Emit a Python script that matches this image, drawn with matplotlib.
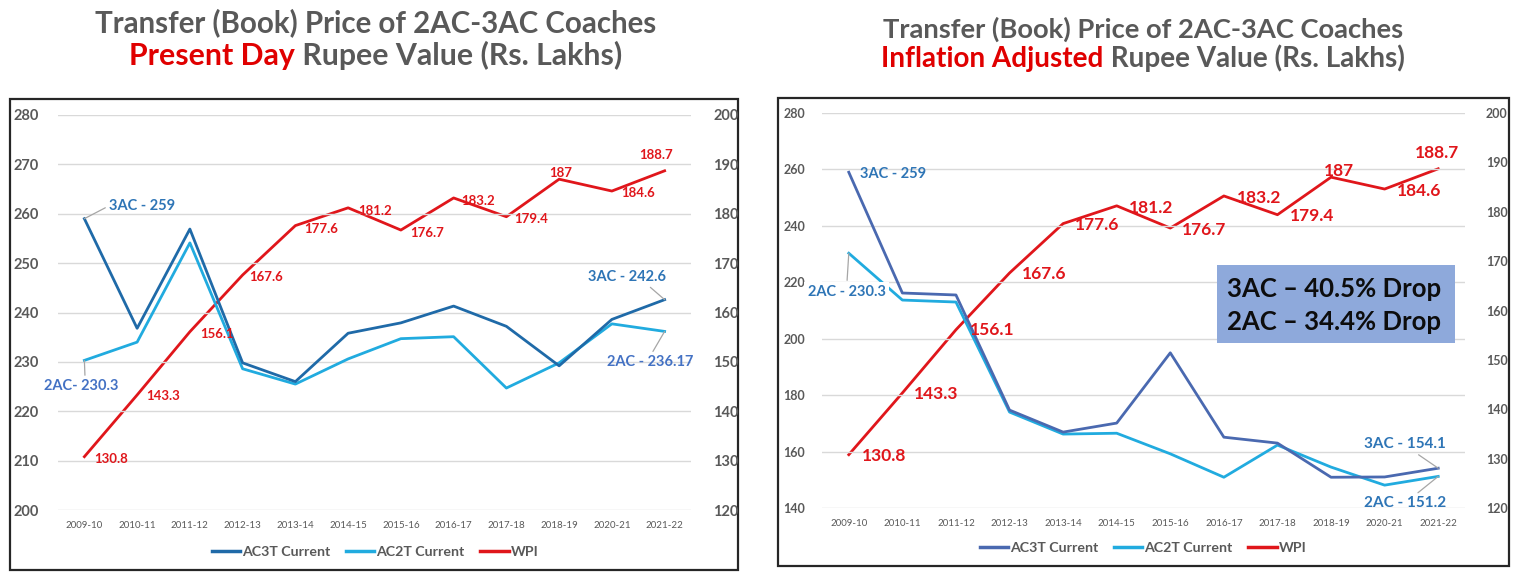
import matplotlib
matplotlib.use("Agg")
import matplotlib.pyplot as plt
from matplotlib.patches import Rectangle
from matplotlib.lines import Line2D

# ---------------- data ----------------
years = ["2009-10", "2010-11", "2011-12", "2012-13", "2013-14", "2014-15",
         "2015-16", "2016-17", "2017-18", "2018-19", "2020-21", "2021-22"]

wpi = [130.8, 143.3, 156.1, 167.6, 177.6, 181.2, 176.7, 183.2, 179.4, 187, 184.6, 188.7]
wpi_labels = ["130.8", "143.3", "156.1", "167.6", "177.6", "181.2", "176.7",
              "183.2", "179.4", "187", "184.6", "188.7"]

ac3t_current = [259, 236.8, 256.9, 229.8, 226.0, 235.8, 237.9, 241.3, 237.2, 229.2, 238.6, 242.6]
ac2t_current = [230.3, 234.0, 254.1, 228.6, 225.5, 230.6, 234.7, 235.1, 224.7, 229.8, 237.7, 236.17]

ac3t_adjusted = [259, 216.2, 215.5, 174.7, 166.9, 170.1, 195.0, 165.1, 163.0, 150.9, 151.0, 154.1]
ac2t_adjusted = [230.3, 213.7, 213.0, 174.0, 166.2, 166.5, 159.2, 150.9, 162.3, 154.5, 148.1, 151.2]

legend_names = ["AC3T Current", "AC2T Current", "WPI"]
left_ticks = [200, 210, 220, 230, 240, 250, 260, 270, 280]
right_ticks_l = [120, 130, 140, 150, 160, 170, 180, 190, 200]
adj_ticks = [140, 160, 180, 200, 220, 240, 260, 280]

# ---------------- styling ----------------
W, H = 1522, 581
FONT = "Lato"
GRAY = "#595959"
RED = "#E0161B"
TRED = "#E00000"
DBLUE = "#1F6AA8"
SLATE = "#4A69B0"
LBLUE = "#21ABDF"
LBLBLUE = "#2E75B6"
LBLPURP = "#4472C4"
GRID = "#D9D9D9"

plt.rcParams["font.family"] = [FONT, "DejaVu Sans"]

fig = plt.figure(figsize=(W / 100, H / 100), dpi=100)
fig.patch.set_facecolor("white")
renderer = fig.canvas.get_renderer()


def fx(x):
    return x / W


def fy(y):
    return 1 - y / H


def add_axes(x0, x1, y0, y1):
    return fig.add_axes([fx(x0), fy(y1), fx(x1) - fx(x0), fy(y0) - fy(y1)])


def fit_text(x_center, y_base, parts, target_width):
    texts = [fig.text(0, fy(y_base), s, color=c, fontsize=20, fontweight="bold",
                      family=FONT, va="baseline", ha="left") for s, c in parts]
    widths = [t.get_window_extent(renderer).width for t in texts]
    scale = target_width / sum(widths)
    for t in texts:
        t.set_fontsize(20 * scale)
    widths = [t.get_window_extent(renderer).width for t in texts]
    x = x_center - sum(widths) / 2
    for t, w in zip(texts, widths):
        t.set_position((fx(x), fy(y_base)))
        x += w


def box(x0, y0, x1, y1):
    fig.patches.append(Rectangle((fx(x0), fy(y1)), fx(x1) - fx(x0), fy(y0) - fy(y1),
                                 transform=fig.transFigure, fill=False,
                                 ec="#262626", lw=1.6, zorder=0))


def style_axes(ax, ax2, lsize, xsize, lpad, rpad):
    for a in (ax, ax2):
        for s in a.spines.values():
            s.set_visible(False)
    ax.grid(axis="y", color=GRID, lw=1.0)
    ax.set_axisbelow(True)
    ax.tick_params(axis="both", length=0)
    ax2.tick_params(axis="both", length=0)
    ax.tick_params(axis="y", labelsize=lsize, labelcolor=GRAY, pad=lpad)
    ax2.tick_params(axis="y", labelsize=lsize, labelcolor=GRAY, pad=rpad)
    for lab in ax.get_yticklabels() + ax2.get_yticklabels():
        lab.set_fontweight("bold")
    ax.tick_params(axis="x", labelsize=xsize, labelcolor=GRAY, pad=8)
    ax.set_facecolor("none")


def leader(ax, text, xy, off, color, size, relpos, bbox=None):
    ax.annotate(text, xy, xytext=off, textcoords="offset pixels", ha="center",
                va="center", color=color, fontsize=size, fontweight="bold",
                bbox=bbox, zorder=8,
                arrowprops=dict(arrowstyle="-", color="#A6A6A6", lw=0.9,
                                shrinkA=1, shrinkB=0, relpos=relpos))


x = list(range(len(years)))

# ================= LEFT CHART =================
box(10, 99, 738, 570)
fit_text(376, 32, [("Transfer (Book) Price of 2AC-3AC Coaches", GRAY)], 563)
fit_text(376, 65, [("Present Day", TRED), (" Rupee Value (Rs. Lakhs)", GRAY)], 493)

axL = add_axes(58, 691, 115, 510)
axL2 = axL.twinx()
axL.set_zorder(2)
axL2.set_zorder(1)
axL.patch.set_visible(False)
axL.plot(x, ac3t_current, color=DBLUE, lw=2.0, zorder=4)
axL.plot(x, ac2t_current, color=LBLUE, lw=2.0, zorder=3)
axL2.plot(x, wpi, color=RED, lw=2.0, zorder=3)
axL.set_ylim(200, 280)
axL2.set_ylim(120, 200)
axL.set_yticks(left_ticks)
axL2.set_yticks(right_ticks_l)
axL.set_xlim(-0.5, 11.5)
axL.set_xticks(x)
axL.set_xticklabels(years)
style_axes(axL, axL2, 10.5, 7, 14, 16)

offsL = [(10, -2, "left"), (9, -1, "left"), (10, -2, "left"), (7, -2, "left"),
         (9, -3, "left"), (10, -3, "left"), (9, -3, "left"), (8, -3, "left"),
         (8, -2, "left"), (2, 6, "center"), (9, -2, "left"), (-9, 16, "center")]
for i, (v, t, off) in enumerate(zip(wpi, wpi_labels, offsL)):
    dx, dy, ha = off
    axL.annotate(t, (i, 200 + (v - 120)), xytext=(dx, dy), textcoords="offset pixels",
                 ha=ha, va="center", color=RED, fontsize=9.5, fontweight="bold", zorder=9)

leader(axL, "3AC - 259", (0, ac3t_current[0]), (58, 13), LBLBLUE, 10.5, (0, 0.5))
leader(axL, "2AC- 230.3", (0, ac2t_current[0]), (-3, -26), LBLPURP, 10.5, (0.55, 1))
leader(axL, "3AC - 242.6", (11, ac3t_current[-1]), (-38, 23), LBLBLUE, 10.5, (0.75, 0))
leader(axL, "2AC - 236.17", (11, ac2t_current[-1]), (-14, -31), LBLPURP, 10.5, (0.5, 1))

handles = [Line2D([], [], color=c, lw=2.5) for c in (DBLUE, LBLUE, RED)]
fig.legend(handles, legend_names, loc="center", bbox_to_anchor=(fx(375), fy(552)),
           ncol=3, frameon=False, handlelength=2.0, handletextpad=0.15,
           columnspacing=1.1, prop=dict(family=FONT, weight="bold", size=10.2),
           labelcolor=GRAY)

# ================= RIGHT CHART =================
box(778, 98, 1509, 566)
fit_text(1143, 38, [("Transfer (Book) Price of 2AC-3AC Coaches", GRAY)], 523)
fit_text(1143, 67, [("Inflation Adjusted", TRED), (" Rupee Value (Rs. Lakhs)", GRAY)], 525)

axR = add_axes(822, 1465, 113, 508)
axR2 = axR.twinx()
axR.set_zorder(2)
axR2.set_zorder(1)
axR.patch.set_visible(False)
axR.plot(x, ac3t_adjusted, color=SLATE, lw=2.0, zorder=4)
axR.plot(x, ac2t_adjusted, color=LBLUE, lw=2.0, zorder=3)
axR2.plot(x, wpi, color=RED, lw=2.0, zorder=3)
axR.set_ylim(140, 280)
axR2.set_ylim(120, 200)
axR.set_yticks(adj_ticks)
axR2.set_yticks(right_ticks_l)
axR.set_xlim(-0.5, 11.5)
axR.set_xticks(x)
axR.set_xticklabels(years)
style_axes(axR, axR2, 9, 7, 12, 15)

offsR = [(13, -1, "left"), (12, -1, "left"), (14, 0, "left"), (12, -1, "left"),
         (12, -1, "left"), (12, -2, "left"), (12, -2, "left"), (13, -2, "left"),
         (12, -1, "left"), (8, 6, "center"), (12, -2, "left"), (-1, 16, "center")]
for i, (v, t, off) in enumerate(zip(wpi, wpi_labels, offsR)):
    dx, dy, ha = off
    axR.annotate(t, (i, 140 + (v - 120) * 140 / 80), xytext=(dx, dy),
                 textcoords="offset pixels", ha=ha, va="center", color=RED,
                 fontsize=12.5, fontweight="bold", zorder=9)

axR.annotate("3AC - 259", (0, ac3t_adjusted[0]), xytext=(11, -2),
             textcoords="offset pixels", ha="left", va="center", color=LBLBLUE,
             fontsize=10.5, fontweight="bold", zorder=8)
leader(axR, "2AC - 230.3", (0, ac2t_adjusted[0]), (-2, -39), LBLBLUE, 10.5, (0.5, 1),
       bbox=dict(fc="white", ec="none", pad=2.5))
leader(axR, "3AC - 154.1", (11, ac3t_adjusted[-1]), (-33, 24), LBLBLUE, 11, (0.6, 0))
leader(axR, "2AC - 151.2", (11, ac2t_adjusted[-1]), (-33, -27), LBLBLUE, 11, (0.6, 1))

# callout box
fig.patches.append(Rectangle((fx(1217), fy(343)), fx(1455) - fx(1217), fy(265) - fy(343),
                             transform=fig.transFigure, fc="#8EA9DB", ec="none", zorder=5))
fig.text(fx(1334), fy(289), "3AC \u2013 40.5% Drop", ha="center", va="center",
         fontsize=18.5, fontweight="bold", color="#0D0D0D", zorder=6)
fig.text(fx(1334), fy(322), "2AC \u2013 34.4% Drop", ha="center", va="center",
         fontsize=18.5, fontweight="bold", color="#0D0D0D", zorder=6)

handles = [Line2D([], [], color=c, lw=2.5) for c in (SLATE, LBLUE, RED)]
fig.legend(handles, legend_names, loc="center", bbox_to_anchor=(fx(1143), fy(548)),
           ncol=3, frameon=False, handlelength=2.0, handletextpad=0.15,
           columnspacing=1.1, prop=dict(family=FONT, weight="bold", size=10.2),
           labelcolor=GRAY)

fig.savefig("out.png", dpi=100, facecolor="white")
